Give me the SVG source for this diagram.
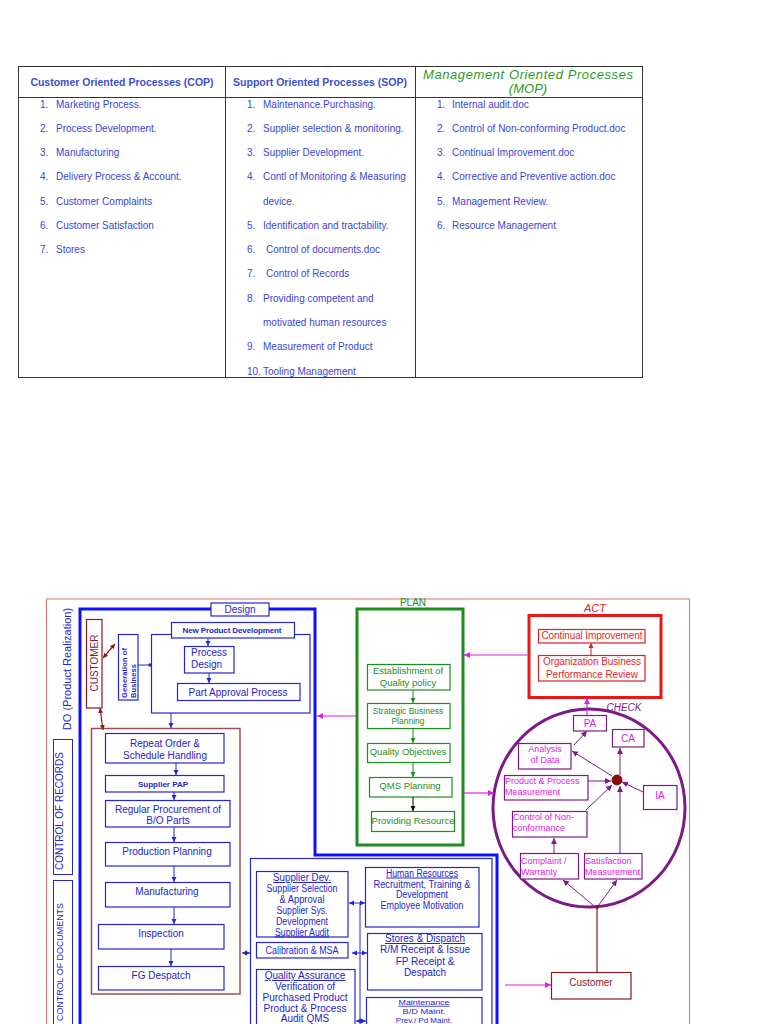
<svg xmlns="http://www.w3.org/2000/svg" width="768" height="1024" viewBox="0 0 768 1024">
<defs>
<style>
text{font-family:"Liberation Sans",Arial,sans-serif}
.ti{font-size:10px;fill:#3a44d8}
.th{font-size:10.5px;font-weight:bold;fill:#3a50d0;text-anchor:middle}
.tm{font-size:13px;font-style:italic;fill:#2a9a2a;text-anchor:middle}
.tl{fill:none;stroke:#333;stroke-width:1}
.bx{fill:#fff;stroke:#2626d0;stroke-width:1.2}
.bt{font-size:10px;fill:#2424c8;text-anchor:middle}
.bb{font-size:8px;font-weight:bold;fill:#2424c8;text-anchor:middle}
.thick{fill:none;stroke:#1010ff;stroke-width:3}
.gbx{fill:#fff;stroke:#1e8c1e;stroke-width:1.2}
.gt{font-size:9.5px;fill:#1e8c1e;text-anchor:middle}
.rbx{fill:#fff;stroke:#e02020;stroke-width:1.2}
.rt{font-size:10px;fill:#e02828;text-anchor:middle}
.pbx{fill:#fff;stroke:#7b1a88;stroke-width:1.2}
.pt{font-size:9px;fill:#e020e0}
.ptc{font-size:10px;fill:#e020e0;text-anchor:middle}
.bl{stroke:#2626d0;stroke-width:1;fill:none}
.gl{stroke:#1e8c1e;stroke-width:1;fill:none}
.ml{stroke:#e020e0;stroke-width:1.2;fill:none}
.pl{stroke:#7b1a88;stroke-width:1;fill:none}
.dl{stroke:#8b1a1a;stroke-width:1.2;fill:none}
.vt{font-size:10px;fill:#2424c8;text-anchor:middle}
</style>
<marker id="ab" markerUnits="userSpaceOnUse" markerWidth="6" markerHeight="6" refX="5" refY="3" orient="auto-start-reverse"><path d="M0,0.5 L5,3 L0,5.5z" fill="#2626d0"/></marker>
<marker id="ag" markerUnits="userSpaceOnUse" markerWidth="6" markerHeight="6" refX="5" refY="3" orient="auto"><path d="M0,0.5 L5,3 L0,5.5z" fill="#1e8c1e"/></marker>
<marker id="ak" markerUnits="userSpaceOnUse" markerWidth="6" markerHeight="6" refX="5" refY="3" orient="auto"><path d="M0,0.5 L5,3 L0,5.5z" fill="#000"/></marker>
<marker id="am" markerUnits="userSpaceOnUse" markerWidth="7" markerHeight="7" refX="6" refY="3.5" orient="auto"><path d="M0,0.5 L6,3.5 L0,6.5z" fill="#e020e0"/></marker>
<marker id="ap" markerUnits="userSpaceOnUse" markerWidth="7" markerHeight="7" refX="6" refY="3.5" orient="auto-start-reverse"><path d="M0,0.5 L6,3.5 L0,6.5z" fill="#7b1a88"/></marker>
<marker id="ar" markerUnits="userSpaceOnUse" markerWidth="6" markerHeight="6" refX="5" refY="3" orient="auto"><path d="M0,0.5 L5,3 L0,5.5z" fill="#e02020"/></marker>
<marker id="ad" markerUnits="userSpaceOnUse" markerWidth="6" markerHeight="6" refX="5" refY="3" orient="auto-start-reverse"><path d="M0,0.5 L5,3 L0,5.5z" fill="#8b1a1a"/></marker>
</defs>
<rect width="768" height="1024" fill="#fff"/>

<!-- TABLE -->
<g id="table">
<rect class="tl" x="18.5" y="66.5" width="624" height="311"/>
<line class="tl" x1="18" y1="97.5" x2="642" y2="97.5"/>
<line class="tl" x1="225.5" y1="66" x2="225.5" y2="377"/>
<line class="tl" x1="415.5" y1="66" x2="415.5" y2="377"/>
<text class="th" x="122" y="86">Customer Oriented Processes (COP)</text>
<text class="th" x="320" y="86">Support Oriented Processes (SOP)</text>
<text class="tm" x="528" y="79" textLength="210" lengthAdjust="spacing">Management Oriented Processes</text>
<text class="tm" x="528" y="93">(MOP)</text>
<g class="ti">
<text x="40" y="108">1.</text><text x="56" y="108">Marketing Process.</text>
<text x="40" y="132">2.</text><text x="56" y="132">Process Development.</text>
<text x="40" y="156">3.</text><text x="56" y="156">Manufacturing</text>
<text x="40" y="180">4.</text><text x="56" y="180">Delivery Process &amp; Account.</text>
<text x="40" y="205">5.</text><text x="56" y="205">Customer Complaints</text>
<text x="40" y="229">6.</text><text x="56" y="229">Customer Satisfaction</text>
<text x="40" y="253">7.</text><text x="56" y="253">Stores</text>

<text x="247" y="108">1.</text><text x="263" y="108">Maintenance.Purchasing.</text>
<text x="247" y="132">2.</text><text x="263" y="132">Supplier selection &amp; monitoring.</text>
<text x="247" y="156">3.</text><text x="263" y="156">Supplier Development.</text>
<text x="247" y="180">4.</text><text x="263" y="180">Contl of Monitoring &amp; Measuring</text>
<text x="263" y="205">device.</text>
<text x="247" y="229">5.</text><text x="263" y="229">Identification and tractability.</text>
<text x="247" y="253">6.</text><text x="266" y="253">Control of documents.doc</text>
<text x="247" y="277">7.</text><text x="266" y="277">Control of Records</text>
<text x="247" y="302">8.</text><text x="263" y="302">Providing competent and</text>
<text x="263" y="326">motivated human resources</text>
<text x="247" y="350">9.</text><text x="263" y="350">Measurement of Product</text>
<text x="247" y="375">10.</text><text x="263" y="375">Tooling Management</text>

<text x="437" y="108">1.</text><text x="452" y="108">Internal audit.doc</text>
<text x="437" y="132">2.</text><text x="452" y="132">Control of Non-conforming Product.doc</text>
<text x="437" y="156">3.</text><text x="452" y="156">Continual Improvement.doc</text>
<text x="437" y="180">4.</text><text x="452" y="180">Corrective and Preventive action.doc</text>
<text x="437" y="205">5.</text><text x="452" y="205">Management Review.</text>
<text x="437" y="229">6.</text><text x="452" y="229">Resource Management</text>
</g>
</g>

<!-- FRAMES -->
<g id="frames">
<rect x="46.5" y="599" width="643" height="440" fill="none" stroke="#e07070" stroke-width="1"/>
<path class="thick" d="M80,1030 V609 H315 V855 H497 V1030"/>
<rect x="250.5" y="858.5" width="241.5" height="180" fill="none" stroke="#2626d0" stroke-width="1.2"/>
<rect x="151.5" y="634.5" width="158.5" height="78.5" fill="none" stroke="#2626d0" stroke-width="1.2"/>
<rect x="91.5" y="728.5" width="148.5" height="265.5" fill="none" stroke="#a05050" stroke-width="1.5"/>
<rect x="357" y="609" width="106" height="236" fill="none" stroke="#1e8c1e" stroke-width="3"/>
<text x="413" y="606" font-size="10" fill="#1e8c1e" text-anchor="middle">PLAN</text>
<rect x="529" y="615.5" width="132" height="82" fill="none" stroke="#e81818" stroke-width="3"/>
<text x="595" y="612" font-size="11" font-style="italic" fill="#e02020" text-anchor="middle">ACT</text>
<ellipse cx="589" cy="808" rx="96" ry="99" fill="none" stroke="#7b1a88" stroke-width="3"/>
<text x="624" y="711" font-size="10" font-style="italic" fill="#7b1a88" text-anchor="middle">CHECK</text>
</g>

<g id="do-label"><text class="vt" style="font-size:11px" transform="translate(70.5,669) rotate(-90)">DO (Product Realization)</text></g>
<g id="control-records">
<rect x="53.5" y="739.5" width="19" height="135" fill="#fff" stroke="#2626d0" stroke-width="1"/>
<text class="vt" textLength="118" lengthAdjust="spacing" transform="translate(63,811) rotate(-90)">CONTROL OF RECORDS</text>
</g>
<g id="control-documents">
<rect x="53.5" y="880.5" width="19" height="160" fill="#fff" stroke="#2626d0" stroke-width="1"/>
<text class="vt" style="font-size:9.5px;text-anchor:end" textLength="118" lengthAdjust="spacingAndGlyphs" transform="translate(62.5,903) rotate(-90)">CONTROL OF DOCUMENTS</text>
</g>

<!-- DO nodes -->
<g id="design"><rect class="bx" x="211" y="603" width="58" height="13"/><text class="bt" x="240" y="613">Design</text></g>
<g id="customer-v"><rect x="86.5" y="619.5" width="15.5" height="88.5" fill="#fff" stroke="#8b1a1a" stroke-width="1.2"/><text font-size="10" fill="#8b1a1a" text-anchor="middle" textLength="57" lengthAdjust="spacing" transform="translate(97.5,663) rotate(-90)">CUSTOMER</text></g>
<g id="generation"><rect class="bx" x="118.5" y="634.5" width="19.5" height="65.5"/>
<text font-size="7.5" font-weight="bold" fill="#2424c8" textLength="50" lengthAdjust="spacing" transform="translate(126.5,698) rotate(-90)">Generation of</text>
<text font-size="7.5" font-weight="bold" fill="#2424c8" textLength="34" lengthAdjust="spacing" transform="translate(135.5,698) rotate(-90)">Business</text></g>
<g id="npd"><rect class="bx" x="171.5" y="622.5" width="123" height="15.5"/><text class="bb" x="232" y="633" textLength="99" lengthAdjust="spacing">New Product Development</text></g>
<g id="process-design"><rect class="bx" x="184.5" y="646.5" width="49.5" height="26.5"/><text class="bt" x="191" y="656" style="text-anchor:start">Process</text><text class="bt" x="191" y="668" style="text-anchor:start">Design</text></g>
<g id="part-approval"><rect class="bx" x="177.5" y="683.5" width="122.5" height="17"/><text class="bt" x="238" y="696">Part Approval Process</text></g>
<g id="repeat-order"><rect class="bx" x="105.5" y="733.5" width="118.5" height="29.5"/><text class="bt" x="165" y="747">Repeat Order &amp;</text><text class="bt" x="165" y="759">Schedule Handling</text></g>
<g id="supplier-pap"><rect class="bx" x="105.5" y="775.5" width="118.5" height="16.5"/><text class="bb" x="163" y="787">Supplier PAP</text></g>
<g id="regular-procurement"><rect class="bx" x="105.5" y="800.5" width="124.5" height="26.5"/><text class="bt" x="168" y="813">Regular Procurement of</text><text class="bt" x="168" y="824">B/O Parts</text></g>
<g id="production-planning"><rect class="bx" x="105.5" y="842.5" width="124.5" height="23.5"/><text class="bt" x="167" y="855">Production Planning</text></g>
<g id="manufacturing"><rect class="bx" x="105.5" y="882.5" width="124.5" height="24.5"/><text class="bt" x="167" y="895">Manufacturing</text></g>
<g id="inspection"><rect class="bx" x="98.5" y="924.5" width="125.5" height="24.5"/><text class="bt" x="161" y="937">Inspection</text></g>
<g id="fg-despatch"><rect class="bx" x="98.5" y="966.5" width="125.5" height="23.5"/><text class="bt" x="161" y="979">FG Despatch</text></g>

<!-- Support nodes -->
<g id="supplier-dev"><rect class="bx" x="256.5" y="871.5" width="91.5" height="65.5"/>
<text class="bt" x="302" y="881" textLength="58" lengthAdjust="spacingAndGlyphs" text-decoration="underline">Supplier Dev.</text>
<text class="bt" x="302" y="892" textLength="71" lengthAdjust="spacingAndGlyphs">Supplier Selection</text>
<text class="bt" x="302" y="903" textLength="45" lengthAdjust="spacingAndGlyphs">&amp; Approval</text>
<text class="bt" x="302" y="914" textLength="51" lengthAdjust="spacingAndGlyphs">Supplier Sys.</text>
<text class="bt" x="302" y="925" textLength="52" lengthAdjust="spacingAndGlyphs">Development</text>
<text class="bt" x="302" y="935.5" textLength="54" lengthAdjust="spacingAndGlyphs" text-decoration="underline">Supplier Audit</text></g>
<g id="calibration"><rect class="bx" x="256.5" y="942.5" width="91.5" height="15.5"/><text class="bt" x="302" y="953.5" textLength="73" lengthAdjust="spacingAndGlyphs">Calibration &amp; MSA</text></g>
<g id="quality-assurance"><rect class="bx" x="256.5" y="969.5" width="98.5" height="70"/>
<text class="bt" x="305" y="979" text-decoration="underline">Quality Assurance</text>
<text class="bt" x="305" y="990">Verification of</text>
<text class="bt" x="305" y="1001">Purchased Product</text>
<text class="bt" x="305" y="1012">Product &amp; Process</text>
<text class="bt" x="305" y="1022">Audit QMS</text></g>
<g id="human-resources"><rect class="bx" x="365.5" y="867.5" width="113.5" height="59.5"/>
<text class="bt" x="422" y="876.5" textLength="72" lengthAdjust="spacingAndGlyphs" text-decoration="underline">Human Resources</text>
<text class="bt" x="422" y="887.5" textLength="97" lengthAdjust="spacingAndGlyphs">Recruitment, Training &amp;</text>
<text class="bt" x="422" y="898" textLength="52" lengthAdjust="spacingAndGlyphs">Development</text>
<text class="bt" x="422" y="909" textLength="83" lengthAdjust="spacingAndGlyphs">Employee Motivation</text></g>
<g id="stores"><rect class="bx" x="367.5" y="933.5" width="114.5" height="56.5"/>
<text class="bt" x="425" y="942" text-decoration="underline">Stores &amp; Dispatch</text>
<text class="bt" x="425" y="953" textLength="90" lengthAdjust="spacing">R/M Receipt &amp; Issue</text>
<text class="bt" x="425" y="965">FP Receipt &amp;</text>
<text class="bt" x="425" y="976">Despatch</text></g>
<g id="maintenance"><rect class="bx" x="366.5" y="997.5" width="115.5" height="42"/>
<text class="bt" x="424" y="1004.8" style="font-size:8px" textLength="51" lengthAdjust="spacingAndGlyphs" text-decoration="underline">Maintenance</text>
<text class="bt" x="424" y="1013.7" style="font-size:8px" textLength="43" lengthAdjust="spacingAndGlyphs">B/D Maint.</text>
<text class="bt" x="424" y="1022.5" style="font-size:8px">Prev./ Pd Maint.</text></g>

<!-- PLAN nodes -->
<g id="quality-policy"><rect class="gbx" x="367.5" y="664.5" width="82.5" height="25.5"/><text class="gt" x="408" y="674">Establishment of</text><text class="gt" x="408" y="686">Quality policy</text></g>
<g id="strategic"><rect class="gbx" x="367.5" y="703.5" width="82.5" height="25"/><text class="gt" x="408" y="714" style="font-size:8.5px">Strategic Business</text><text class="gt" x="408" y="724" style="font-size:8.5px">Planning</text></g>
<g id="quality-objectives"><rect class="gbx" x="367.5" y="743.5" width="82.5" height="19"/><text class="gt" x="408" y="755">Quality Objectives</text></g>
<g id="qms-planning"><rect class="gbx" x="369.5" y="777.5" width="82.5" height="19.5"/><text class="gt" x="410" y="789">QMS Planning</text></g>
<g id="providing-resource"><rect class="gbx" x="371.5" y="811.5" width="83" height="20"/><text class="gt" x="413" y="824">Providing Resource</text></g>

<!-- ACT nodes -->
<g id="continual-improvement"><rect class="rbx" x="538.5" y="629.5" width="106.5" height="13.5"/><text class="rt" x="592" y="639" textLength="101" lengthAdjust="spacing">Continual Improvement</text></g>
<g id="org-review"><rect class="rbx" x="538.5" y="655.5" width="106.5" height="25.5"/><text class="rt" x="592" y="665" textLength="98" lengthAdjust="spacing">Organization Business</text><text class="rt" x="592" y="677.5" textLength="92" lengthAdjust="spacing">Performance Review</text></g>

<!-- CHECK nodes -->
<g id="pa"><rect class="pbx" x="573.5" y="715.5" width="33" height="15.5"/><text class="ptc" x="590" y="727">PA</text></g>
<g id="ca"><rect class="pbx" x="612.5" y="729.5" width="31.5" height="17.5"/><text class="ptc" x="628" y="742">CA</text></g>
<g id="analysis"><rect class="pbx" x="518.5" y="743.5" width="52.5" height="25.5"/><text class="pt" x="545" y="752" text-anchor="middle">Analysis</text><text class="pt" x="545" y="763" text-anchor="middle">of Data</text></g>
<g id="pp-measurement"><rect class="pbx" x="504.5" y="775.5" width="83.5" height="24.5"/><text class="pt" x="505" y="784">Product &amp; Process</text><text class="pt" x="505" y="795">Measurement</text></g>
<g id="ia"><rect class="pbx" x="643.5" y="785.5" width="33.5" height="24"/><text class="ptc" x="660" y="799">IA</text></g>
<g id="nonconformance"><rect class="pbx" x="512.5" y="811.5" width="74.5" height="25.5"/><text class="pt" x="513" y="820">Control of Non-</text><text class="pt" x="513" y="831">conformance</text></g>
<g id="complaint"><rect class="pbx" x="520.5" y="853.5" width="58" height="25.5"/><text class="pt" x="521" y="864">Complaint /</text><text class="pt" x="521" y="875">Warranty</text></g>
<g id="satisfaction"><rect class="pbx" x="584.5" y="853.5" width="57.5" height="25.5"/><text class="pt" x="585" y="864">Satisfaction</text><text class="pt" x="585" y="875">Measurement</text></g>
<g id="hub"><circle cx="617" cy="780" r="5" fill="#8b0a0a" stroke="#5a0000" stroke-width="0.8"/></g>

<g id="customer"><rect x="551.5" y="972.5" width="79.5" height="26.5" fill="#fff" stroke="#8b1a1a" stroke-width="1.2"/><text x="591" y="986" font-size="10" fill="#8b1a1a" text-anchor="middle">Customer</text></g>

<!-- CONNECTORS -->
<g id="connectors">
<line class="dl" x1="103" y1="658" x2="115" y2="644" marker-start="url(#ad)" marker-end="url(#ad)"/>
<line class="dl" x1="100" y1="708" x2="103" y2="730" marker-start="url(#ad)" marker-end="url(#ad)"/>
<line class="bl" x1="138" y1="665" x2="151" y2="665"/>
<circle cx="150" cy="665" r="1.8" fill="#2626d0"/>
<line class="bl" x1="208" y1="638" x2="208" y2="646" marker-end="url(#ab)"/>
<line class="bl" x1="209" y1="673" x2="209" y2="683" marker-end="url(#ab)"/>
<line class="bl" x1="171" y1="713" x2="171" y2="728" marker-end="url(#ab)"/>
<line class="bl" x1="176" y1="763" x2="176" y2="775" marker-end="url(#ab)"/>
<line class="bl" x1="174" y1="792" x2="174" y2="800" marker-end="url(#ab)"/>
<line class="bl" x1="174" y1="827" x2="174" y2="842" marker-end="url(#ab)"/>
<line class="bl" x1="174" y1="866" x2="174" y2="882" marker-end="url(#ab)"/>
<line class="bl" x1="174" y1="907" x2="174" y2="924" marker-end="url(#ab)"/>
<line class="bl" x1="171" y1="949" x2="171" y2="966" marker-end="url(#ab)"/>
<line class="bl" x1="242" y1="953" x2="250" y2="953" marker-start="url(#ab)" marker-end="url(#ab)"/>
<line class="bl" x1="360" y1="903" x2="360" y2="1030"/>
<line class="bl" x1="349" y1="903" x2="365" y2="903" marker-start="url(#ab)" marker-end="url(#ab)"/>
<line class="bl" x1="352" y1="953" x2="367" y2="953" marker-start="url(#ab)" marker-end="url(#ab)"/>
<line class="bl" x1="356" y1="1021" x2="366" y2="1021" marker-start="url(#ab)" marker-end="url(#ab)"/>
<line class="gl" x1="413" y1="690" x2="413" y2="703" marker-end="url(#ag)"/>
<line class="gl" x1="413" y1="729" x2="413" y2="743" marker-end="url(#ag)"/>
<line class="gl" x1="413" y1="763" x2="413" y2="777" marker-end="url(#ag)"/>
<line x1="413" y1="797" x2="413" y2="811" stroke="#000" stroke-width="1" marker-end="url(#ak)"/>
<line class="ml" x1="357" y1="716" x2="317" y2="716" marker-end="url(#am)"/>
<line class="ml" x1="528" y1="655" x2="464" y2="655" marker-end="url(#am)"/>
<line class="ml" x1="463" y1="793" x2="494" y2="793" marker-end="url(#am)"/>
<line class="ml" x1="587" y1="715" x2="587" y2="698" marker-end="url(#am)"/>
<line x1="591" y1="655" x2="591" y2="643" stroke="#e02020" stroke-width="1" marker-end="url(#ar)"/>
<line class="pl" x1="588" y1="781" x2="611" y2="781" marker-end="url(#ap)"/>
<line class="pl" x1="586" y1="810" x2="612" y2="785" marker-end="url(#ap)"/>
<line class="pl" x1="643" y1="792" x2="622" y2="782" marker-end="url(#ap)"/>
<line class="pl" x1="620" y1="853" x2="620" y2="786" marker-end="url(#ap)"/>
<line class="pl" x1="620" y1="775" x2="620" y2="748" marker-end="url(#ap)"/>
<line class="pl" x1="612" y1="776" x2="572" y2="751" marker-end="url(#ap)"/>
<line class="pl" x1="574" y1="745" x2="587" y2="731" marker-end="url(#ap)"/>
<line class="pl" x1="554" y1="853" x2="554" y2="838" marker-end="url(#ap)"/>
<line class="pl" x1="594" y1="906" x2="563" y2="880" marker-end="url(#ap)"/>
<line class="pl" x1="598" y1="906" x2="617" y2="880" marker-end="url(#ap)"/>
<line class="dl" x1="597" y1="907" x2="597" y2="972"/>
<circle cx="597" cy="907" r="2" fill="#8b1a1a"/>
<line class="ml" x1="505" y1="985" x2="551" y2="985" marker-end="url(#am)"/>
</g>
</svg>
